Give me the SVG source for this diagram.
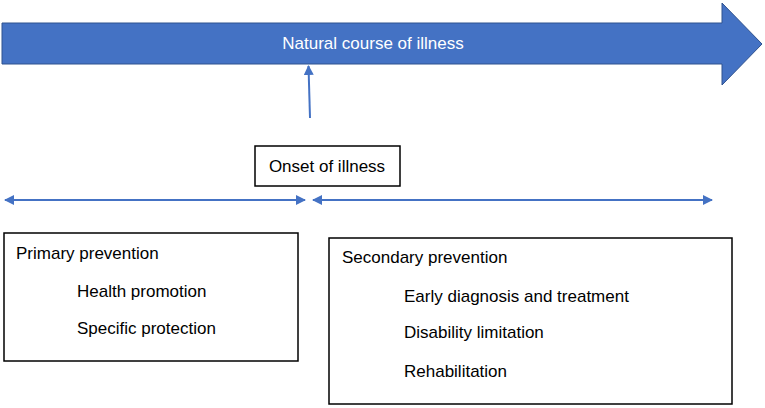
<svg xmlns="http://www.w3.org/2000/svg" width="765" height="408" viewBox="0 0 765 408">
<style>
  text { font-family: "Liberation Sans", Arial, sans-serif; font-size: 17px; fill: #000; }
  .box { fill: #fff; stroke: #000; stroke-width: 1.5; }
  .conn { stroke: #4472C4; stroke-width: 2; fill: none; }
</style>
<defs>
  <marker id="ah" viewBox="0 0 10 10" refX="9" refY="5" markerWidth="5" markerHeight="5" orient="auto-start-reverse">
    <path d="M0,0 L10,5 L0,10 z" fill="#4472C4"/>
  </marker>
</defs>
<rect width="765" height="408" fill="#fff"/>
<g id="natural-course">
  <path d="M2,23 L722,23 L722,3 L762,44 L722,85 L722,64 L2,64 Z" fill="#4472C4" stroke="#2F528F" stroke-width="1"/>
  <text x="373" y="49" text-anchor="middle" style="fill:#fff">Natural course of illness</text>
</g>
<g id="connectors">
  <line class="conn" x1="310" y1="118" x2="308.5" y2="66" marker-end="url(#ah)"/>
  <line class="conn" x1="5" y1="200" x2="305" y2="200" marker-start="url(#ah)" marker-end="url(#ah)"/>
  <line class="conn" x1="313" y1="200" x2="712" y2="200" marker-start="url(#ah)" marker-end="url(#ah)"/>
</g>
<g id="onset">
  <rect class="box" x="255" y="146" width="145" height="40"/>
  <text x="327" y="172" text-anchor="middle">Onset of illness</text>
</g>
<g id="primary">
  <rect class="box" x="4" y="233" width="294" height="128"/>
  <text x="16" y="259">Primary prevention</text>
  <text x="77" y="297">Health promotion</text>
  <text x="77" y="334">Specific protection</text>
</g>
<g id="secondary">
  <rect class="box" x="329" y="238" width="403" height="166"/>
  <text x="342" y="263">Secondary prevention</text>
  <text x="404" y="302">Early diagnosis and treatment</text>
  <text x="404" y="338">Disability limitation</text>
  <text x="404" y="377">Rehabilitation</text>
</g>
</svg>
